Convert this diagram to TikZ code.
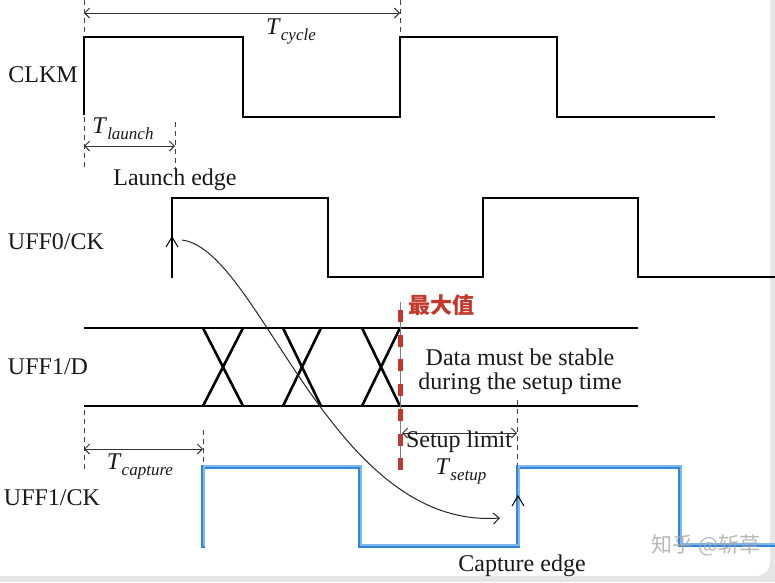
\documentclass[tikz,border=0pt]{standalone}
\usepackage{fontspec}
\setmainfont{Liberation Serif}
\newfontfamily\cjk{Noto Sans CJK SC}
\usetikzlibrary{arrows.meta}
\definecolor{redmark}{HTML}{C4382C}
\definecolor{bluedark}{HTML}{3386D6}
\definecolor{bluelight}{HTML}{7DB6EC}
\newcommand{\Tsub}[1]{\textit{T}\raisebox{-6pt}{\fontsize{17}{17}\selectfont\itshape #1}}
\begin{document}
\begin{tikzpicture}[x=1pt,y=-1pt,
  wave/.style={line width=2.6pt, line join=miter},
  bluewave/.style={line width=4.8pt, bluedark, line join=miter},
  bluecore/.style={line width=1.2pt, bluelight, line join=miter},
  guide/.style={line width=0.9pt, dash pattern=on 5pt off 4pt, black!75},
  dim/.style={line width=1pt, black!80, {Straight Barb[length=5pt,width=10pt]}-{Straight Barb[length=5pt,width=10pt]}},
  lbl/.style={font=\fontsize{24}{26}\selectfont, inner sep=0pt, text=black!90},
  tlbl/.style={font=\fontsize{24}{26}\selectfont, inner sep=0pt, text=black!90},
  chev/.style={line width=1pt, black}
]
\useasboundingbox (0,0) rectangle (775,582);
\fill[black!10] (0,0) rectangle (775,582);
\fill[white, rounded corners=14pt] (-20,-20) rectangle (770,576);

% guides
\draw[guide] (84,0) -- (84,170);
\draw[guide] (400,0) -- (400,37);
\draw[guide] (175,122) -- (175,170);
\draw[guide] (84,410) -- (84,470);
\draw[guide] (203,430) -- (203,467);
\draw[guide] (517,400) -- (517,467);

% dimension arrows
\coordinate (cycA) at (84,13);  \coordinate (cycB) at (400,13);
\coordinate (lauA) at (84,146); \coordinate (lauB) at (175,146);
\coordinate (capA) at (84,449); \coordinate (capB) at (203,449);
\coordinate (setA) at (402,433); \coordinate (setB) at (517,433);
\draw[dim] (cycA) -- (cycB);
\draw[dim] (lauA) -- (lauB);
\draw[dim] (capA) -- (capB);
\draw[dim] (setA) -- (setB);

% CLKM
\draw[wave] (84,115) -- (84,37) -- (243,37) -- (243,117) -- (400,117) -- (400,37) -- (557,37) -- (557,117) -- (715,117);
% UFF0/CK
\draw[wave] (172,278) -- (172,198) -- (328,198) -- (328,277) -- (483,277) -- (483,198) -- (638,198) -- (638,277) -- (775,277);
\draw[chev] (166,247) -- (172,237) -- (178,247);
% UFF1/D
\draw[wave] (84,328) -- (638,328);
\draw[wave] (84,406) -- (638,406);
\draw[wave] (203,328) -- (243,406); \draw[wave] (243,328) -- (203,406);
\draw[wave] (283,328) -- (321,406); \draw[wave] (321,328) -- (283,406);
\draw[wave] (362,328) -- (400,406); \draw[wave] (400,328) -- (362,406);
% UFF1/CK
\draw[bluewave] (203,548) -- (203,467) -- (360,467) -- (360,546) -- (518,546) -- (518,467) -- (680,467) -- (680,545) -- (775,545);
\draw[bluecore] (204,546) -- (204,466) -- (361,466) -- (361,545) -- (519,545) -- (519,466) -- (681,466) -- (681,544) -- (775,544);
\draw[chev] (512,506) -- (518,496) -- (524,506);

% red max line
\draw[line width=0.8pt, black!50] (400,302) -- (400,470);
\draw[line width=5pt, redmark, dash pattern=on 12pt off 12.7pt] (400,310) -- (400,472);

% launch-to-capture curve
\coordinate (launch) at (182,240);
\coordinate (capture) at (500,518);
\draw[line width=1pt, black!85, -{Straight Barb[length=6pt,width=11pt]}] (launch) .. controls (260,250) and (330,530) .. (capture);

% labels
\node[lbl] (lclkm) at (43,75) {CLKM};
\node[lbl] (luff0) at (56,242) {UFF0/CK};
\node[lbl] (luffd) at (48,367) {UFF1/D};
\node[lbl] (luffck) at (52,498) {UFF1/CK};
\node[tlbl] (tcyc) at (291,31) {\Tsub{cycle}};
\node[tlbl] (tlau) at (123,129) {\Tsub{launch}};
\node[tlbl] (tcap) at (140,466) {\Tsub{capture}};
\node[tlbl] (tset) at (461,471) {\Tsub{setup}};
\node[lbl] (ledge) at (175,180) {Launch edge};
\node[lbl] (cedge) at (522,566) {Capture edge};
\node[lbl] (slim) at (459,442) {Setup limit};
\node[lbl, align=center, font=\fontsize{24}{24}\selectfont] (dtxt) at (520,372) {Data must be stable\\during the setup time};
\node[inner sep=0pt, text=redmark, font=\cjk\bfseries\fontsize{22}{24}\selectfont] (maxv) at (441,305) {最大值};
\node[inner sep=0pt, text=black!35, opacity=0.8, font=\cjk\fontsize{21}{24}\selectfont] (wm) at (706,545) {知乎 @斩草};
\end{tikzpicture}
\end{document}
